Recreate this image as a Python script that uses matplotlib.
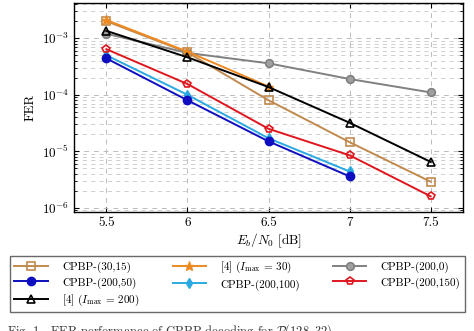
import matplotlib
matplotlib.use("Agg")
import matplotlib.pyplot as plt
from matplotlib.ticker import LogLocator, NullFormatter

plt.rcParams["font.family"] = "serif"
plt.rcParams["font.serif"] = ["cmr10", "DejaVu Serif"]
plt.rcParams["mathtext.fontset"] = "cm"
plt.rcParams["axes.formatter.use_mathtext"] = True

ebn0 = [5.5, 6.0, 6.5, 7.0, 7.5]

fer_30_15 = [2.0e-3, 5.6e-4, 8.0e-5, 1.45e-5, 2.9e-6]
fer_imax30 = [2.1e-3, 5.8e-4, 1.4e-4]
fer_200_0 = [1.2e-3, 5.5e-4, 3.6e-4, 1.9e-4, 1.1e-4]
fer_200_50 = [4.4e-4, 8.0e-5, 1.5e-5, 3.6e-6]
fer_200_100 = [5.0e-4, 1.0e-4, 1.7e-5, 4.4e-6]
fer_200_150 = [6.4e-4, 1.55e-4, 2.5e-5, 8.5e-6, 1.6e-6]
fer_imax200 = [1.35e-3, 4.6e-4, 1.37e-4, 3.2e-5, 6.5e-6]

fig = plt.figure(figsize=(4.74, 3.31), dpi=100)
ax = fig.add_axes([0.156, 0.36, 0.821, 0.631])

c_brown = "#C08A4E"
c_orange = "#EE8A22"
c_grey = "#808080"
c_blue = "#0E0EC0"
c_cyan = "#2AAAE0"
c_red = "#E0161E"

lw, ms = 1.4, 5.5
h1, = ax.plot(ebn0, fer_30_15, color=c_brown, lw=lw, marker="s", ms=ms,
              mfc="none", mew=1.2, label="CPBP-(30,15)")
h5, = ax.plot(ebn0[:4], fer_200_100, color=c_cyan, lw=lw, marker="d", ms=ms,
              mfc=c_cyan, label="CPBP-(200,100)")
h2, = ax.plot(ebn0[:4], fer_200_50, color=c_blue, lw=lw, marker="o", ms=ms + 0.5,
              label="CPBP-(200,50)")
h6, = ax.plot(ebn0, fer_200_150, color=c_red, lw=lw, marker="p", ms=ms,
              mfc="none", mew=1.2, label="CPBP-(200,150)")
h3, = ax.plot(ebn0, fer_200_0, color=c_grey, lw=lw, marker="o", ms=ms,
              mfc="#A0A0A0", mec=c_grey, mew=1.2, label="CPBP-(200,0)")
h4, = ax.plot(ebn0[:3], fer_imax30, color=c_orange, lw=lw, marker="*", ms=ms + 1,
              label=r"[4] ($I_{\mathrm{max}}$ = 30)")
h7, = ax.plot(ebn0, fer_imax200, color="black", lw=lw, marker="^", ms=ms,
              mfc="none", mew=1.2, label=r"[4] ($I_{\mathrm{max}}$ = 200)")

ax.set_yscale("log")
ax.set_xlim(5.3, 7.7)
ax.set_ylim(8.5e-7, 4.2e-3)
ax.set_xticks(ebn0)
ax.set_xticklabels(["5.5", "6", "6.5", "7", "7.5"])
ax.yaxis.set_major_locator(LogLocator(base=10, numticks=10))
ax.yaxis.set_minor_locator(LogLocator(base=10, subs=range(2, 10), numticks=20))
ax.yaxis.set_minor_formatter(NullFormatter())
ax.tick_params(which="both", direction="in", top=True, right=True, labelsize=9.5)
ax.grid(True, which="major", ls=(0, (5, 5)), color="#BBBBBB", lw=0.7)
ax.grid(True, which="minor", axis="y", ls=(0, (5, 5)), color="#C8C8C8", lw=0.6)
for s in ax.spines.values():
    s.set_linewidth(1.0)

ax.set_xlabel(r"$E_b/N_0$ [dB]", fontsize=9.5, labelpad=2)
ax.set_ylabel("FER", fontsize=9.5)

handles = [h1, h2, h7, h4, h5, h3, h6]
leg = fig.legend(handles=handles, labels=[h.get_label() for h in handles],
                 ncol=3, loc="lower left",
                 bbox_to_anchor=(0.021, 0.057, 0.96, 0.182), mode="expand",
                 fontsize=8, frameon=True, fancybox=False, edgecolor="#444444",
                 handlelength=3, handletextpad=1.3, borderaxespad=0,
                 labelspacing=0.35, columnspacing=0.8)
leg.get_frame().set_linewidth(1.0)

# caption of the paper figure, cut by the lower edge as in the source
fig.text(0.015, 0.025, r"Fig. 1.  FER performance of CPBP decoding for $\mathcal{P}(128,32)$",
         fontsize=9, va="top", ha="left", color="#333333")

fig.savefig("out.png", dpi=100)
